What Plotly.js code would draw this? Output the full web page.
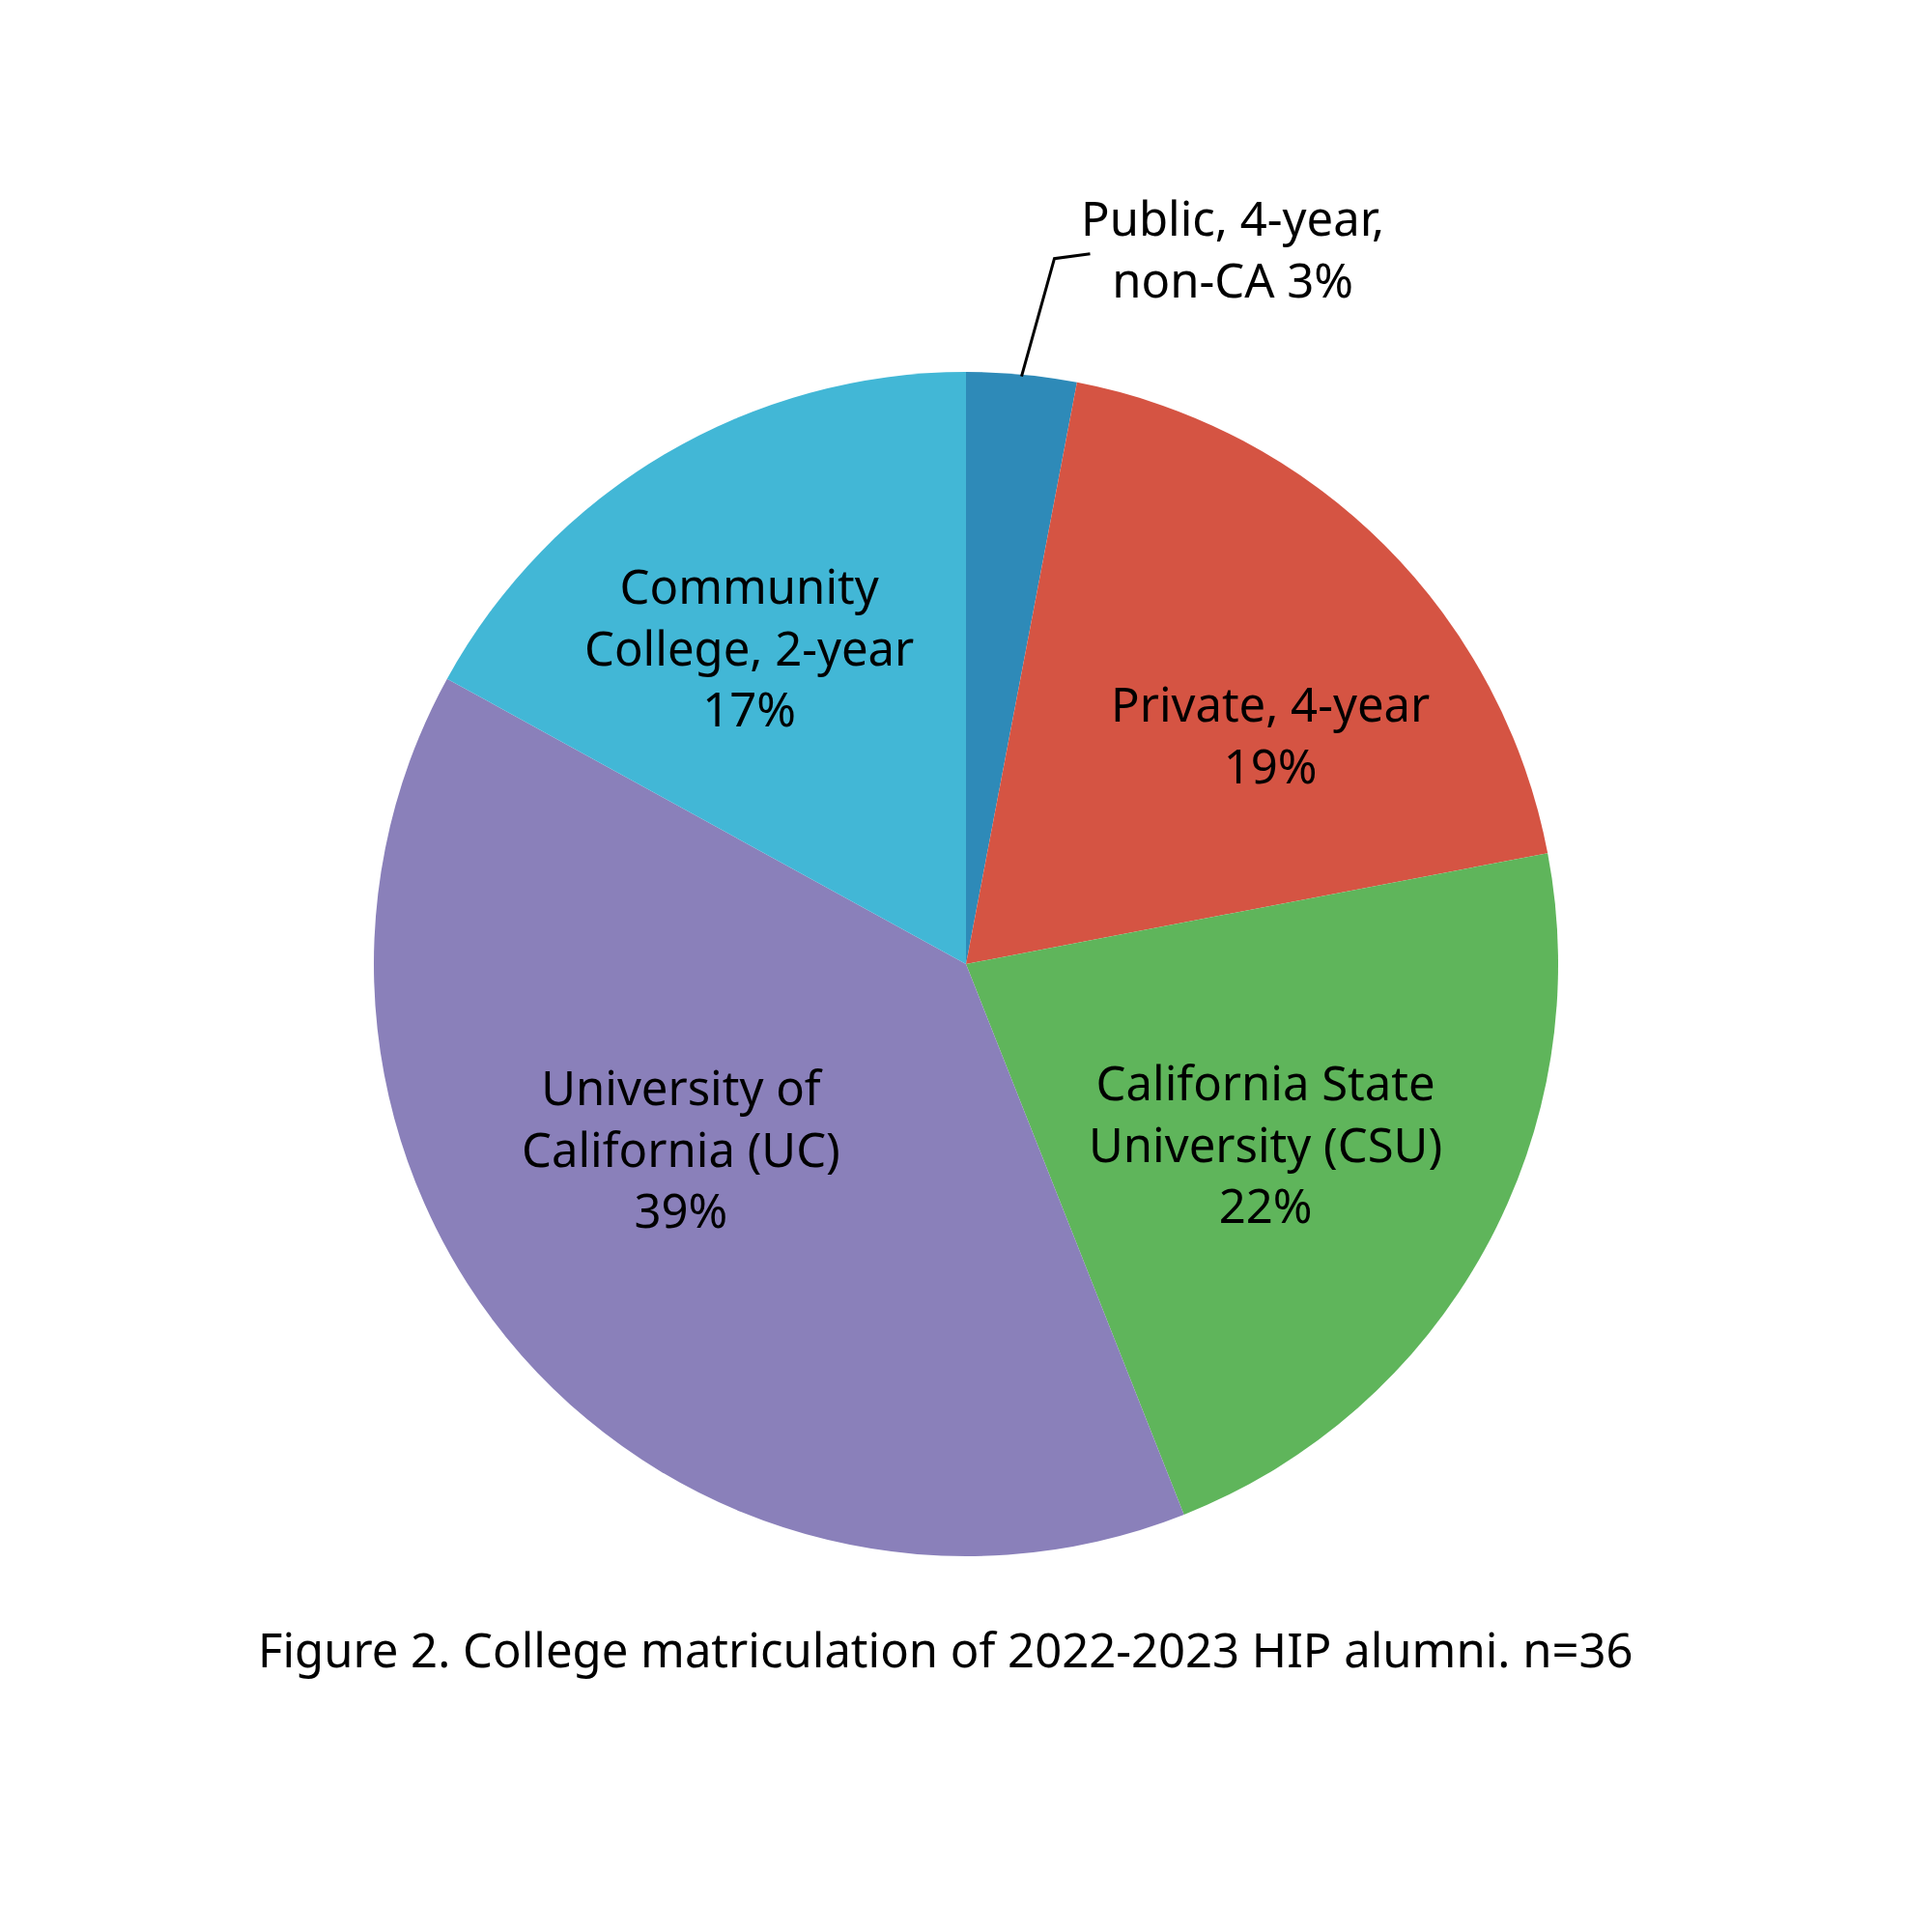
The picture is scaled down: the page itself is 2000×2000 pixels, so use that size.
<!DOCTYPE html>
<html>
<head>
<meta charset="utf-8">
<script src="https://cdn.plot.ly/plotly-3.0.1.min.js"></script>
<style>html,body{margin:0;padding:0;background:#fff}</style>
</head>
<body>
<div id="chart" style="width:2000px;height:2000px"></div>
<script>
// Daten (Prozent, n=36)
const categories = ['Public, 4-year, non-CA', 'Private, 4-year', 'California State University (CSU)',
  'University of California (UC)', 'Community College, 2-year'];
const labelText = ['Public, 4-year,<br>non-CA', 'Private, 4-year', 'California State<br>University (CSU)',
  'University of<br>California (UC)', 'Community<br>College, 2-year'];
const shares = [3, 19, 22, 39, 17];
const sliceColors = ['#2e8ab8', '#d55443', '#5fb55b', '#8a80ba', '#42b7d6'];
const caption = 'Figure 2. College matriculation of 2022-2023 HIP alumni. n=36';

// Geometrie (Pixel im 2000er Bild)
const SIZE = 2000;
const cx = 1000, cy = 998, R = 613;
const FONT = { family: 'Noto Sans, sans-serif', size: 49, color: '#000000' };

// Label-Feinjustierung: Winkelversatz (Grad) und Radiusanteil
const labelShift = [0, 8, 2, 8.5, -3.6];
const labelRadius = [0, 0.646, 0.590, 0.572, 0.648];

const px = x => x / SIZE;
const py = y => 1 - y / SIZE;

const total = shares.reduce((a, b) => a + b, 0);
let cum = 0;
const midAngles = shares.map(v => {
  const a = (cum + v / 2) / total * 360;
  cum += v;
  return a;
});

const annotations = [];
shares.forEach((v, i) => {
  if (i === 0) return;
  const a = (midAngles[i] + labelShift[i]) * Math.PI / 180;
  const r = R * labelRadius[i];
  annotations.push({
    x: px(cx + r * Math.sin(a) - 1), y: py(cy - r * Math.cos(a)),
    xref: 'paper', yref: 'paper', xanchor: 'center', yanchor: 'middle',
    text: labelText[i] + '<br>' + v + '%', showarrow: false, font: FONT, align: 'center'
  });
});

// kleines Segment: Beschriftung außen mit Führungslinie
const a0 = midAngles[0] * Math.PI / 180;
const start = [cx + (R - 2) * Math.sin(a0), cy - (R - 2) * Math.cos(a0)];
const elbow = [start[0] + 34, start[1] - 122];
const end = [elbow[0] + 37, elbow[1] - 5];
annotations.push({
  x: px(end[0] + 147), y: py(end[1] - 6),
  xref: 'paper', yref: 'paper', xanchor: 'center', yanchor: 'middle',
  text: labelText[0] + ' ' + shares[0] + '%', showarrow: false, font: FONT, align: 'center'
});

annotations.push({
  x: px(979), y: py(1707), xref: 'paper', yref: 'paper',
  xanchor: 'center', yanchor: 'middle',
  text: caption, showarrow: false, font: FONT
});

const trace = {
  type: 'pie',
  labels: categories,
  values: shares,
  sort: false,
  direction: 'clockwise',
  rotation: 0,
  textinfo: 'none',
  hoverinfo: 'label+percent',
  marker: { colors: sliceColors, line: { width: 0 } },
  domain: { x: [px(cx - R), px(cx + R)], y: [py(cy + R), py(cy - R)] }
};

const layout = {
  width: SIZE, height: SIZE,
  margin: { l: 0, r: 0, t: 0, b: 0 },
  paper_bgcolor: '#ffffff',
  showlegend: false,
  annotations,
  shapes: [{
    type: 'path', xref: 'paper', yref: 'paper',
    path: `M ${px(start[0])} ${py(start[1])} L ${px(elbow[0])} ${py(elbow[1])} L ${px(end[0])} ${py(end[1])}`,
    line: { color: '#000000', width: 3 }
  }]
};

Plotly.newPlot('chart', [trace], layout, { displayModeBar: false, staticPlot: true });
</script>
</body>
</html>
